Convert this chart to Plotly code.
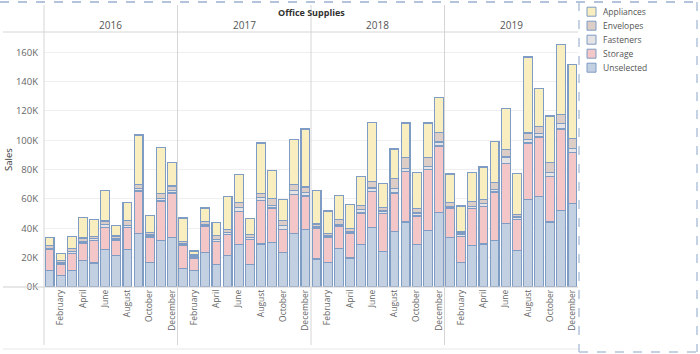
import plotly.graph_objects as go
from plotly.subplots import make_subplots

years = ["2016", "2017", "2018", "2019"]
months = ["January", "February", "March", "April", "May", "June",
          "July", "August", "September", "October", "November", "December"]
shown_months = ["February", "April", "June", "August", "October", "December"]

# values in dollars, 12 months per year, 2016..2019
unselected = [11400, 8000, 11100, 18000, 16400, 25700, 21400, 25700, 36400, 16600, 31800, 33600,
              12500, 11400, 23400, 15200, 21600, 28900, 15200, 29300, 30200, 23400, 36400, 39100,
              19100, 16600, 26100, 19800, 29100, 40700, 24300, 37700, 44300, 28900, 38400, 50700,
              33600, 16800, 28400, 29300, 31600, 43400, 25000, 59500, 61800, 44300, 52300, 56800]
storage = [14000, 7700, 11600, 11500, 15200, 15000, 10600, 14800, 29100, 17500, 26800, 30500,
           16100, 8100, 18200, 15700, 14100, 22700, 17100, 29600, 23700, 15700, 26600, 22900,
           21100, 17000, 15500, 17000, 21400, 24500, 25700, 26400, 34300, 19500, 41600, 45400,
           19800, 17700, 25000, 25700, 33200, 40700, 21100, 38700, 40500, 31200, 55400, 35000]
fasteners = [1000, 1000, 1500, 1200, 1200, 1800, 1200, 1600, 1800, 1400, 1600, 1500,
             1000, 900, 700, 1300, 1200, 2500, 1400, 2300, 1600, 2700, 2700, 2500,
             1100, 1100, 1100, 1100, 2300, 2300, 1800, 3000, 2300, 2000, 2300, 2700,
             1100, 1600, 1400, 1800, 1800, 4500, 1600, 2300, 2300, 2700, 3600, 2500]
envelopes = [1700, 1500, 2200, 2700, 1700, 2500, 1600, 3400, 2800, 1800, 3600, 3200,
             1300, 1400, 2500, 2700, 2500, 3600, 2300, 2500, 5000, 3400, 4100, 3600,
             1600, 1900, 3200, 1800, 2700, 4500, 2300, 6800, 7300, 3200, 6100, 6400,
             3200, 1400, 3600, 2700, 4800, 5200, 1800, 4500, 4800, 6600, 6100, 6800]
appliances = [5500, 4500, 8100, 13900, 11600, 20700, 7000, 12000, 33500, 11300, 31200, 16000,
              16100, 2700, 9100, 9200, 22200, 18900, 10600, 34500, 18800, 14300, 30900, 39600,
              22800, 15200, 16600, 16700, 19700, 40300, 16600, 20200, 23600, 24400, 23400, 23900,
              19300, 17700, 19600, 22300, 27500, 27800, 27800, 51800, 26100, 31800, 48100, 50500]

y_ticks = [0, 20000, 40000, 60000, 80000, 100000, 120000, 140000, 160000]
y_tick_labels = ["0K", "20K", "40K", "60K", "80K", "100K", "120K", "140K", "160K"]

series = [
    ("Unselected", unselected, "#c3d0e1"),
    ("Storage", storage, "#f3c6c8"),
    ("Fasteners", fasteners, "#e6e3e4"),
    ("Envelopes", envelopes, "#dccec7"),
    ("Appliances", appliances, "#f8eebf"),
]
legend_order = ["Appliances", "Envelopes", "Fasteners", "Storage", "Unselected"]

FONT = "Open Sans"
BORDER = "#7e9cc4"
W, H = 700, 354
L, R, T, B = 44, 122, 32, 67
PW, PH = W - L - R, H - T - B


def px_x(x):
    return (x - L) / PW


def px_y(y):
    return (H - B - y) / PH


fig = make_subplots(rows=1, cols=4, shared_yaxes=True, horizontal_spacing=0)

for i, yr in enumerate(years):
    for name, vals, color in series:
        fig.add_trace(go.Bar(
            x=months, y=vals[i * 12:(i + 1) * 12], name=name,
            marker=dict(color=color, line=dict(color=BORDER, width=1.2)),
            showlegend=False,
        ), row=1, col=i + 1)
    fig.update_xaxes(
        type="category", categoryorder="array", categoryarray=months,
        tickmode="array", tickvals=shown_months, ticktext=shown_months,
        tickangle=-90, tickfont=dict(family=FONT, size=8.5, color="#666666"),
        showgrid=False, showline=False, zeroline=False, ticks="",
        domain=[i / 4, (i + 1) / 4], row=1, col=i + 1)
    fig.add_annotation(text=yr, xref=f"x{'' if i == 0 else i + 1} domain", x=0.5,
                       yref="paper", y=px_y(25), xanchor="center", yanchor="middle",
                       showarrow=False, font=dict(family=FONT, size=10, color="#555555"))

fig.update_yaxes(range=[0, 173800], tickmode="array", tickvals=y_ticks,
                 ticktext=y_tick_labels, gridcolor="#efefef", gridwidth=1,
                 showline=False, zeroline=False, ticks="", ticklabelstandoff=5,
                 tickfont=dict(family=FONT, size=9.5, color="#666666"))

fig.add_annotation(text="<b>Office Supplies</b>", xref="paper", x=0.5, yref="paper",
                   y=px_y(12), xanchor="center", yanchor="middle", showarrow=False,
                   font=dict(family=FONT, size=9, color="#333333"))
fig.add_annotation(text="Sales", xref="paper", x=px_x(8), yref="paper", y=px_y(160),
                   xanchor="center", yanchor="middle",
                   textangle=-90, showarrow=False,
                   font=dict(family=FONT, size=9.5, color="#333333"))

shapes = []
line_gray = "#d6d6d6"
shapes.append(dict(type="line", xref="paper", yref="paper", x0=px_x(3), x1=1, y0=1, y1=1,
                   line=dict(color=line_gray, width=1)))
shapes.append(dict(type="line", xref="paper", yref="paper", x0=px_x(3), x1=1, y0=0, y1=0,
                   line=dict(color="#cfcfcf", width=1)))
shapes.append(dict(type="line", xref="paper", yref="paper", x0=px_x(3), x1=1,
                   y0=px_y(349), y1=px_y(349), line=dict(color="#e8e8e8", width=1)))
for k in range(4):
    shapes.append(dict(type="line", xref="paper", yref="paper", x0=k / 4, x1=k / 4,
                       y0=px_y(5), y1=px_y(345), line=dict(color=line_gray, width=1)))
dash_col = "#b3c3dc"
shapes.append(dict(type="line", xref="paper", yref="paper", x0=px_x(0), x1=px_x(700),
                   y0=px_y(2), y1=px_y(2), line=dict(color=dash_col, width=2, dash="dash")))
shapes.append(dict(type="line", xref="paper", yref="paper", x0=px_x(579), x1=px_x(579),
                   y0=px_y(2), y1=px_y(352), line=dict(color=dash_col, width=1.5, dash="dash")))
shapes.append(dict(type="line", xref="paper", yref="paper", x0=px_x(697), x1=px_x(697),
                   y0=px_y(2), y1=px_y(352), line=dict(color=dash_col, width=1.5, dash="dash")))
shapes.append(dict(type="line", xref="paper", yref="paper", x0=px_x(579), x1=px_x(697),
                   y0=px_y(352), y1=px_y(352), line=dict(color=dash_col, width=1.5, dash="dash")))

# legend (drawn as swatches + text, Tableau-style compact spacing)
colors = {name: color for name, _, color in series}
for j, name in enumerate(legend_order):
    cy = 11.7 + 14 * j
    shapes.append(dict(type="rect", xref="paper", yref="paper",
                       x0=px_x(587), x1=px_x(596), y0=px_y(cy - 4.5), y1=px_y(cy + 4.5),
                       fillcolor=colors[name], line=dict(color=BORDER, width=1)))
    fig.add_annotation(text=name, xref="paper", x=px_x(600.5), yref="paper", y=px_y(cy),
                       xanchor="left", yanchor="middle", showarrow=False,
                       font=dict(family=FONT, size=8.5, color="#555555"))

fig.update_layout(
    width=W, height=H, barmode="stack", bargap=0.2,
    margin=dict(l=L, r=R, t=T, b=B, autoexpand=False),
    paper_bgcolor="white", plot_bgcolor="white",
    font=dict(family=FONT, color="#444444"),
    shapes=shapes,
    showlegend=False,
)

fig.write_html("out.html")
